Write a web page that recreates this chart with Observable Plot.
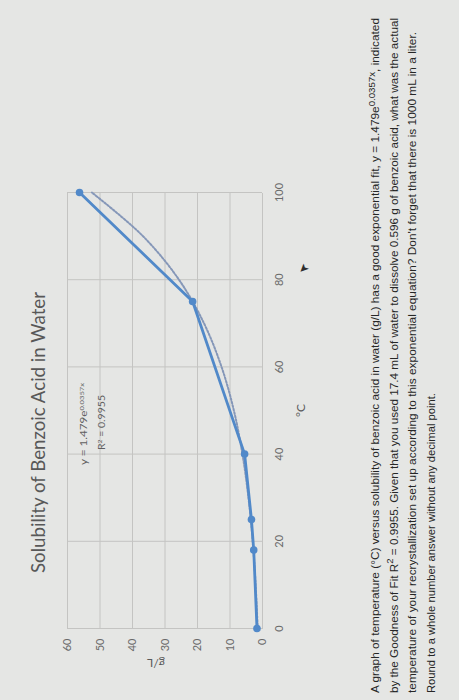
<!DOCTYPE html>
<html><head><meta charset="utf-8">
<script src="https://cdn.jsdelivr.net/npm/d3@7"></script>
<script src="https://cdn.jsdelivr.net/npm/@observablehq/plot@0.6"></script>
<style>
html,body{margin:0;padding:0;background:#e5e6e4;width:459px;height:700px;overflow:hidden;}
#page{position:absolute;left:0;top:0;width:700px;height:459px;transform-origin:0 0;transform:translate(0px,700px) rotate(-90deg);}
#chart{position:absolute;left:0;top:0;width:700px;height:300px;}
#chart svg{max-width:none;}
#overlay{position:absolute;left:0;top:0;}
</style></head><body>
<div id="page"><div id="chart"></div><svg id="overlay" width="700" height="459"></svg></div>
<script>
// data
const temperatures = [0, 18, 25, 40, 75, 100];          // °C
const solubility   = [1.7, 2.7, 3.4, 5.5, 21.5, 56.3];  // g/L
// dotted exponential trendline
const trendTemps  = [0, 10, 20, 30, 40, 50, 60, 70, 80, 90, 100];
const trendValues = [1.48, 2.11, 3.02, 4.32, 6.17, 8.81, 12.6, 18.0, 25.7, 36.8, 52.5];
const xTicks = [0, 20, 40, 60, 80, 100];
const yTicks = [0, 10, 20, 30, 40, 50, 60];
const chartTitle = "Solubility of Benzoic Acid in Water";
const xLabel = "°C";
const yLabel = "g/L";
const eqBase = "y = 1.479e";
const eqExp = "0.0357x";
const r2Text = " = 0.9955";
const paragraph = [
  [["A graph of temperature (°C) versus solubility of benzoic acid in water (g/L) has a good exponential fit, y = 1.479e"], ["0.0357x", true], [", indicated"]],
  [["by the Goodness of Fit R"], ["2", true], [" = 0.9955.  Given that you used 17.4 mL of water to dissolve 0.596 g of benzoic acid, what was the actual"]],
  [["temperature of your recrystallization set up according to this exponential equation?  Don't forget that there is 1000 mL in a liter."]],
  [["Round to a whole number answer without any decimal point."]]
];
const paragraphLengths = [675, 675, 661, 300];

const data = temperatures.map((t, i) => ({t, s: solubility[i]}));
const trend = trendTemps.map((t, i) => ({t, s: trendValues[i]}));
const blue = "#5189c9";
const tickColor = "#6a6a6a";

const plot = Plot.plot({
  width: 700, height: 300,
  marginLeft: 71, marginRight: 193, marginTop: 67, marginBottom: 38,
  x: {domain: [0, 100], axis: null},
  y: {domain: [0, 60], axis: null},
  style: {background: "transparent", fontFamily: "Lato, 'Open Sans', sans-serif", fontSize: "11px", overflow: "visible"},
  marks: [
    Plot.gridX(xTicks, {stroke: "#c4c4c2", strokeOpacity: 1}),
    Plot.gridY(yTicks, {stroke: "#c4c4c2", strokeOpacity: 1}),
    Plot.line(trend, {x: "t", y: "s", curve: "catmull-rom", stroke: "#8597b8", strokeWidth: 2, strokeDasharray: "1.8,1.8"}),
    Plot.line(data, {x: "t", y: "s", stroke: blue, strokeWidth: 2.8}),
    Plot.dot(data, {x: "t", y: "s", r: 3.8, fill: blue, stroke: "none"}),
    Plot.text(xTicks, {x: d => d, text: d => String(d), frameAnchor: "bottom", dy: 16.5, lineAnchor: "middle", fill: tickColor}),
    Plot.text(yTicks, {y: d => d, text: d => String(d), frameAnchor: "left", dx: -10, textAnchor: "end", lineAnchor: "middle", fill: tickColor}),
    Plot.text([xLabel], {x: [50], frameAnchor: "bottom", dy: 39, lineAnchor: "middle", fontSize: 12, fill: "#5a5a5a"}),
    Plot.text([yLabel], {y: [30], frameAnchor: "left", dx: -34, rotate: -90, lineAnchor: "middle", fontSize: 12, fill: "#5a5a5a"})
  ]
});
document.getElementById("chart").appendChild(plot);

const svg = d3.select("#overlay");
svg.append("text")
  .attr("x", 267.5).attr("y", 45)
  .attr("text-anchor", "middle")
  .attr("textLength", 281).attr("lengthAdjust", "spacingAndGlyphs")
  .style("font-family", "Lato, 'Open Sans', sans-serif")
  .style("font-size", "20px")
  .style("fill", "#585858")
  .text(chartTitle);

const eq = svg.append("text")
  .attr("x", 235).attr("y", 87)
  .attr("textLength", 82).attr("lengthAdjust", "spacingAndGlyphs")
  .style("font-family", "Lato, 'Open Sans', sans-serif")
  .style("font-size", "10px").style("fill", "#5f5f5f");
eq.append("tspan").text(eqBase);
eq.append("tspan").attr("dy", -3.5).style("font-size", "6.5px").text(eqExp);

const r2 = svg.append("text")
  .attr("x", 250).attr("y", 105)
  .attr("textLength", 55).attr("lengthAdjust", "spacingAndGlyphs")
  .style("font-family", "Lato, 'Open Sans', sans-serif")
  .style("font-size", "10px").style("fill", "#5f5f5f");
r2.append("tspan").text("R");
r2.append("tspan").attr("dy", -3.5).style("font-size", "6.5px").text("2");
r2.append("tspan").attr("dy", 3.5).text(r2Text);

const baselines = [379, 397.5, 416, 434.5];
paragraph.forEach((segs, i) => {
  const t = svg.append("text")
    .attr("x", 7).attr("y", baselines[i])
    .attr("textLength", paragraphLengths[i]).attr("lengthAdjust", "spacingAndGlyphs")
    .style("font-family", "'Liberation Sans', Arial, sans-serif")
    .style("font-size", "11px").style("fill", "#262626");
  let raised = false;
  segs.forEach(([s, sup]) => {
    const sp = t.append("tspan").text(s);
    if (sup && !raised) { sp.attr("dy", -4.5).style("font-size", "9px"); raised = true; }
    else if (!sup && raised) { sp.attr("dy", 4.5); raised = false; }
  });
});

svg.append("text")
  .attr("transform", "translate(431,304) rotate(-135)")
  .attr("text-anchor", "middle").attr("dy", "0.35em")
  .style("font-family", "'DejaVu Sans', sans-serif")
  .style("font-size", "12px").style("fill", "#2e2e2e")
  .text("➤");
</script>
</body></html>
